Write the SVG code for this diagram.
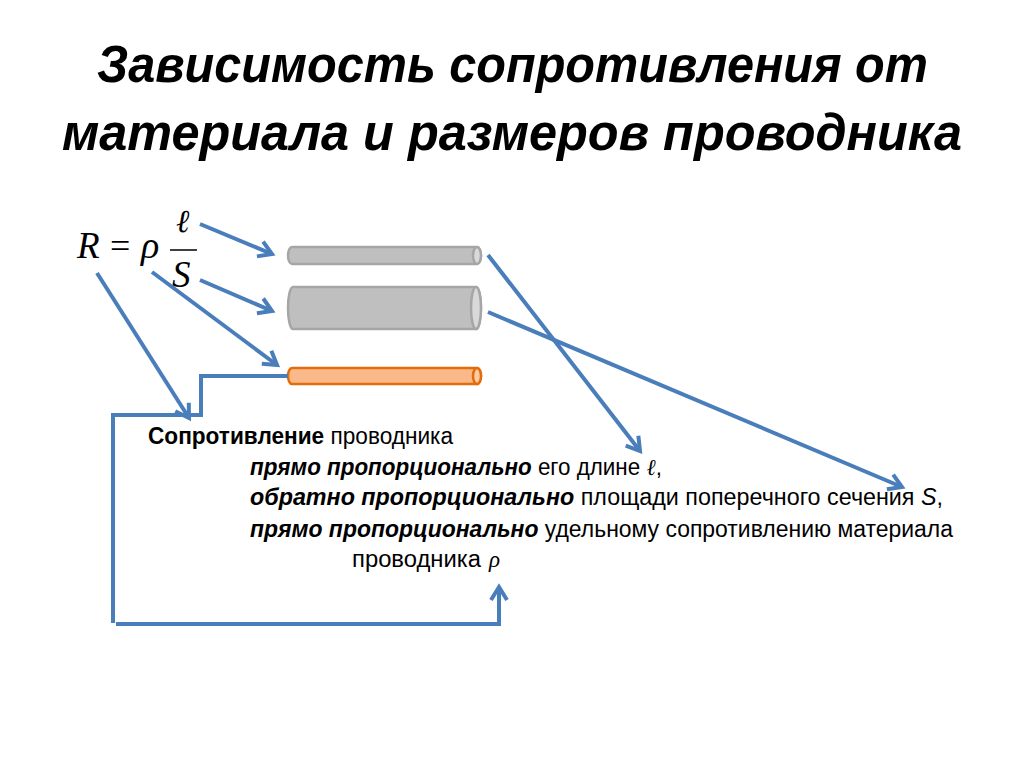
<svg xmlns="http://www.w3.org/2000/svg" width="1024" height="768" viewBox="0 0 1024 768">
<style>
.title{font-family:"Liberation Sans",Arial,sans-serif;font-weight:bold;font-style:italic;font-size:52px;fill:#000}
.math{font-family:"Liberation Serif","Times New Roman",serif;font-style:italic;fill:#000}
.body{font-family:"Liberation Sans",Arial,sans-serif;font-size:23px;fill:#000}
.b{font-weight:bold}
.bi{font-weight:bold;font-style:italic}
.conn{fill:none;stroke:#4a7ebb;stroke-width:4;stroke-linejoin:miter}
.gray{fill:#bfbfbf;stroke:#a6a6a6;stroke-width:2.5}
.grayend{fill:#d9d9d9;stroke:#a6a6a6;stroke-width:2.5}
.orange{fill:#f9b98b;stroke:#e46c0a;stroke-width:2.5}
.orangeend{fill:#fbcba6;stroke:#e46c0a;stroke-width:2.5}
</style>
<defs>
<marker id="arr" markerUnits="userSpaceOnUse" viewBox="-16 -10 19 20" refX="0" refY="0" markerWidth="19" markerHeight="20" orient="auto" overflow="visible">
<path d="M-13,-8 L0,0 L-13,8" fill="none" stroke="#4a7ebb" stroke-width="4"/>
</marker>
</defs>
<rect width="1024" height="768" fill="#fff"/>
<g id="title">
<text class="title" x="97" y="82" textLength="831" lengthAdjust="spacingAndGlyphs">Зависимость сопротивления от</text>
<text class="title" x="62" y="150" textLength="900" lengthAdjust="spacingAndGlyphs">материала и размеров проводника</text>
</g>
<g id="formula">
<text class="math" x="77" y="258" font-size="37">R</text>
<text x="110" y="258" font-size="36" font-family="Liberation Serif, serif">=</text>
<text class="math" x="141" y="258" font-size="38">ρ</text>
<text x="176" y="232" font-size="32" font-family="DejaVu Serif, serif" font-style="italic" font-weight="normal">ℓ</text>
<line x1="170" y1="250" x2="197" y2="250" stroke="#000" stroke-width="1.5"/>
<text class="math" x="172" y="287" font-size="37">S</text>
</g>
<g id="rod1">
<path class="gray" d="M292,247 L477,247 A4,8.5 0 0 1 477,264 L292,264 A4,8.5 0 0 1 292,247 Z"/>
<ellipse class="grayend" cx="477" cy="255.5" rx="4" ry="8.5"/>
</g>
<g id="rod2">
<path class="gray" d="M293,287 L476,287 A5,21 0 0 1 476,329 L293,329 A5,21 0 0 1 293,287 Z"/>
<ellipse class="grayend" cx="476" cy="308" rx="5" ry="21"/>
</g>
<g id="rod3">
<path class="orange" d="M292,368 L477,368 A4,8 0 0 1 477,384 L292,384 A4,8 0 0 1 292,368 Z"/>
<ellipse class="orangeend" cx="477" cy="376" rx="4" ry="8"/>
</g>
<g id="statement" class="body">
<text x="148" y="444" textLength="305" lengthAdjust="spacingAndGlyphs"><tspan class="b">Сопротивление</tspan> проводника</text>
<text x="250" y="475" textLength="412" lengthAdjust="spacingAndGlyphs"><tspan class="bi">прямо пропорционально</tspan> его длине <tspan font-family="Liberation Serif, serif" font-style="italic">ℓ</tspan>,</text>
<text x="250" y="505" textLength="693" lengthAdjust="spacingAndGlyphs"><tspan class="bi">обратно пропорционально</tspan> площади поперечного сечения <tspan font-style="italic">S</tspan>,</text>
<text x="250" y="537" textLength="703" lengthAdjust="spacingAndGlyphs"><tspan class="bi">прямо пропорционально</tspan> удельному сопротивлению материала</text>
<text x="352" y="567" textLength="129" lengthAdjust="spacingAndGlyphs">проводника</text>
<text class="math" x="489" y="567" font-size="23">ρ</text>
</g>
<g id="connectors">
<line class="conn" x1="200" y1="224" x2="272" y2="254" marker-end="url(#arr)"/>
<line class="conn" x1="200" y1="280" x2="272" y2="311" marker-end="url(#arr)"/>
<line class="conn" x1="152" y1="272" x2="277" y2="365" marker-end="url(#arr)"/>
<line class="conn" x1="97" y1="273" x2="189" y2="418" marker-end="url(#arr)"/>
<polyline class="conn" points="288,376 201,376 201,415 113,415 113,623"/>
<polyline class="conn" points="116,624 499,624 499,587" marker-end="url(#arr)"/>
<line class="conn" x1="488" y1="255" x2="640" y2="451" marker-end="url(#arr)"/>
<line class="conn" x1="488" y1="312" x2="902" y2="487" marker-end="url(#arr)"/>
</g>
</svg>
